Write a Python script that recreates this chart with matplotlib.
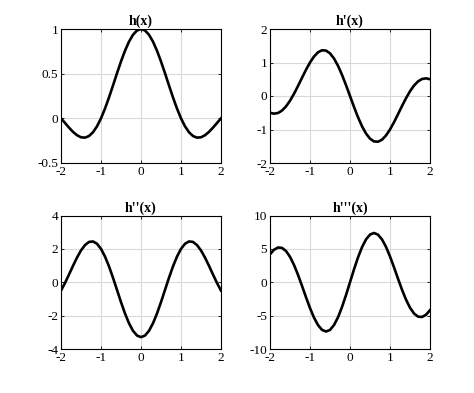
import matplotlib
matplotlib.use("Agg")
import matplotlib.pyplot as plt

x = [-2.0, -1.9, -1.8, -1.7, -1.6, -1.5, -1.4, -1.3, -1.2, -1.1, -1.0,
     -0.9, -0.8, -0.7, -0.6, -0.5, -0.4, -0.3, -0.2, -0.1, 0.0,
     0.1, 0.2, 0.3, 0.4, 0.5, 0.6, 0.7, 0.8, 0.9, 1.0,
     1.1, 1.2, 1.3, 1.4, 1.5, 1.6, 1.7, 1.8, 1.9, 2.0]

h0 = [0.0, -0.0518, -0.1039, -0.1515, -0.1892, -0.2122, -0.2162, -0.1981, -0.1559, -0.0894, 0.0,
      0.1093, 0.2339, 0.3679, 0.5046, 0.6366, 0.7568, 0.8584, 0.9355, 0.9836, 1.0,
      0.9836, 0.9355, 0.8584, 0.7568, 0.6366, 0.5046, 0.3679, 0.2339, 0.1093, 0.0,
      -0.0894, -0.1559, -0.1981, -0.2162, -0.2122, -0.1892, -0.1515, -0.1039, -0.0518, 0.0]

h1 = [-0.5, -0.5278, -0.5072, -0.4349, -0.3114, -0.1415, 0.0663, 0.2998, 0.5443, 0.7833, 1.0,
      1.1782, 1.3036, 1.3652, 1.3559, 1.2732, 1.1195, 0.9020, 0.6324, 0.3257, 0.0,
      -0.3257, -0.6324, -0.9020, -1.1195, -1.2732, -1.3559, -1.3652, -1.3036, -1.1782, -1.0,
      -0.7833, -0.5443, -0.2998, -0.0663, 0.1415, 0.3114, 0.4349, 0.5072, 0.5278, 0.5]

h2 = [-0.5, -0.0446, 0.4623, 0.9835, 1.4782, 1.9058, 2.2288, 2.4163, 2.4459, 2.3067, 2.0,
      1.5395, 0.9508, 0.2698, -0.4599, -1.1902, -1.8720, -2.4585, -2.9093, -3.1931, -3.2899,
      -3.1931, -2.9093, -2.4585, -1.8720, -1.1902, -0.4599, 0.2698, 0.9508, 1.5395, 2.0,
      2.3067, 2.4459, 2.4163, 2.2288, 1.9058, 1.4782, 0.9835, 0.4623, -0.0446, -0.5]

h3 = [4.1848, 4.8698, 5.2065, 5.1480, 4.6777, 3.8115, 2.5976, 1.1135, -0.5391, -2.2421, -3.8696,
      -5.2979, -6.4154, -7.1310, -7.3826, -7.1414, -6.4150, -5.2475, -3.7160, -1.9254, 0.0,
      1.9254, 3.7160, 5.2475, 6.4150, 7.1414, 7.3826, 7.1310, 6.4154, 5.2979, 3.8696,
      2.2421, 0.5391, -1.1135, -2.5976, -3.8115, -4.6777, -5.1480, -5.2065, -4.8698, -4.1848]

titles = ["h(x)", "h'(x)", "h''(x)", "h'''(x)"]
series = [h0, h1, h2, h3]
ylims = [(-0.5, 1), (-2, 2), (-4, 4), (-10, 10)]
yticks = [[-0.5, 0, 0.5, 1], [-2, -1, 0, 1, 2], [-4, -2, 0, 2, 4], [-10, -5, 0, 5, 10]]
yticklabels = [["-0.5", "0", "0.5", "1"], ["-2", "-1", "0", "1", "2"],
               ["-4", "-2", "0", "2", "4"], ["-10", "-5", "0", "5", "10"]]
xticks = [-2, -1, 0, 1, 2]
xticklabels = ["-2", "-1", "0", "1", "2"]

plt.rcParams['font.family'] = ['Liberation Serif', 'DejaVu Serif']

fig = plt.figure(figsize=(4.74, 3.93), dpi=100)
positions = [
    [61/474, 1 - 163/393, 160/474, 134/393],
    [270/474, 1 - 163/393, 160/474, 134/393],
    [61/474, 1 - 349/393, 160/474, 133.5/393],
    [270/474, 1 - 349/393, 160/474, 133.5/393],
]

for i in range(4):
    ax = fig.add_axes(positions[i])
    ax.plot(x, series[i], color='black', linewidth=1.9, solid_joinstyle='round')
    ax.set_xlim(-2, 2)
    ax.set_ylim(*ylims[i])
    ax.set_xticks(xticks)
    ax.set_xticklabels(xticklabels)
    ax.set_yticks(yticks[i])
    ax.set_yticklabels(yticklabels[i])
    ax.grid(True, color='#d9d9d9', linewidth=0.8)
    ax.set_axisbelow(True)
    ax.tick_params(direction='in', length=2.5, width=0.6, labelsize=9.5,
                   top=True, right=True, pad=2)
    for s in ax.spines.values():
        s.set_linewidth(0.8)
        s.set_color('black')
    ax.set_title(titles[i], fontsize=10, fontweight='bold', pad=3)

fig.savefig("out.png", dpi=100)
